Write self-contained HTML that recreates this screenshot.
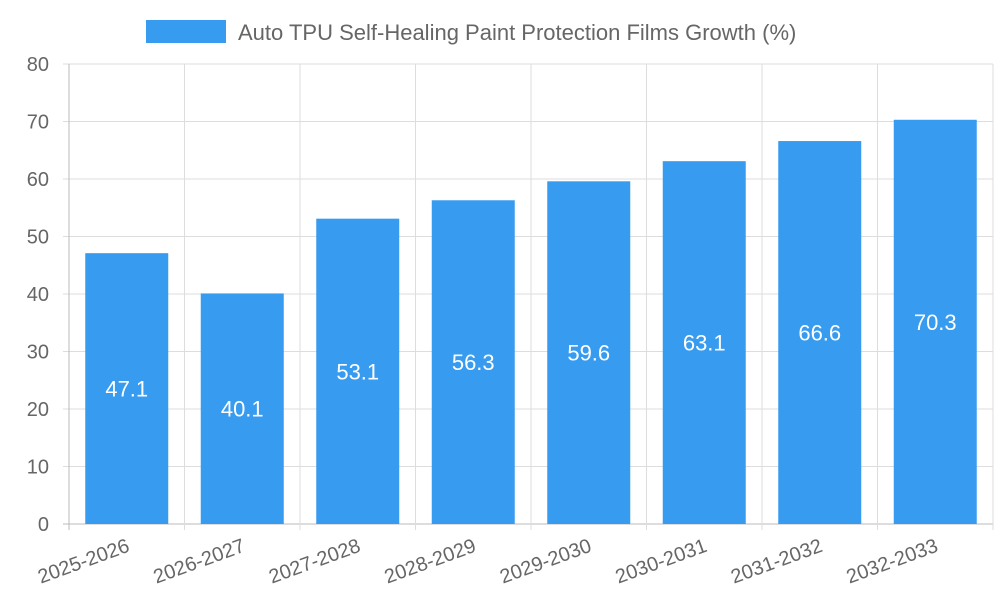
<!DOCTYPE html>
<html><head><meta charset="utf-8"><style>body{margin:0;background:#fff}svg{display:block;font-family:"Liberation Sans",sans-serif}</style></head>
<body>
<svg id="c" width="1000" height="600">
<rect x="146" y="20" width="80" height="23" fill="#379bf0"/>
<text x="238" y="40" font-size="22" fill="#666">Auto TPU Self-Healing Paint Protection Films Growth (%)</text>
</svg>
<script>
const categories=["2025-2026","2026-2027","2027-2028","2028-2029","2029-2030","2030-2031","2031-2032","2032-2033"];
const values=[47.1,40.1,53.1,56.3,59.6,63.1,66.6,70.3];
const yTicks=[0,10,20,30,40,50,60,70,80];
const svg=document.getElementById('c');const NS='http://www.w3.org/2000/svg';
const L=69,R=993,T=64,B=524,yMax=80;
const y=v=>B-(v/yMax)*(B-T);
const bw=(R-L)/categories.length;
const x=i=>L+i*bw;
function mk(t,a,txt){const e=document.createElementNS(NS,t);for(const k in a)e.setAttribute(k,a[k]);if(txt!=null)e.textContent=txt;svg.appendChild(e);return e;}
yTicks.forEach(t=>{
 const g=mk('line',{x1:L-6,x2:R,y1:y(t),y2:y(t),stroke:t===0?'#bbb':'#ddd','stroke-width':1});
 
 
 const l=mk('text',{x:L-20,y:y(t)+7,'font-size':20,fill:'#666','text-anchor':'end'},t);
 
 
});
for(let i=0;i<=categories.length;i++){
 const g=mk('line',{x1:x(i),x2:x(i),y1:T,y2:B+6,stroke:i===0?'#bbb':'#ddd','stroke-width':1});
 
 
}
categories.forEach((c,i)=>{
 const cx=x(i)+bw/2,w=83;
 const b=mk('rect',{x:cx-w/2,y:y(values[i]),width:w,height:B-y(values[i]),fill:'#379bf0'});
 
 
 const v=mk('text',{x:cx,y:(y(values[i])+B)/2+8,'font-size':22,fill:'#fff','text-anchor':'middle'},values[i]);
 
 
 const t=mk('text',{x:cx+4,y:B+27,'font-size':20,fill:'#666','text-anchor':'end',transform:`rotate(-20 ${cx+4} ${B+27})`},c);
 
 
});
</script>
</body></html>
